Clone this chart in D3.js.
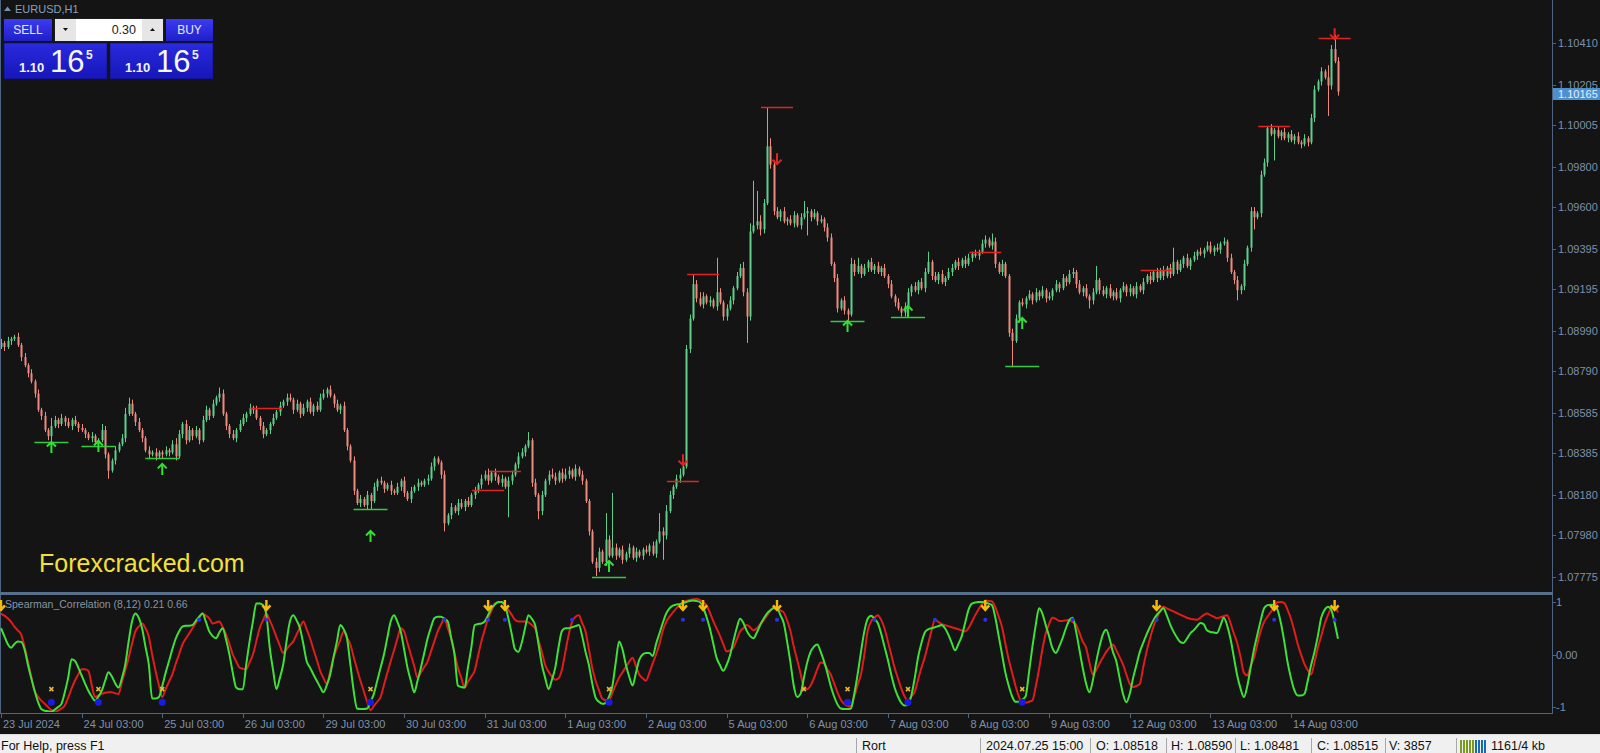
<!DOCTYPE html>
<html><head><meta charset="utf-8">
<script src="https://cdn.jsdelivr.net/npm/d3@7/dist/d3.min.js"></script>
<style>
html,body{margin:0;padding:0;background:#141414;overflow:hidden}
svg{display:block}
text{font-family:"Liberation Sans",Arial,sans-serif}
</style></head><body>
<svg id="chart" width="1600" height="753"></svg>
<script>
// ---------------- DATA ----------------
const symbol = "EURUSD,H1";
const firstOpen = 1.0891;
// hourly closes, one row per trading day (23 Jul 03:00 ... 14 Aug)
const closes = [
1.0893,1.0891,1.0894,1.0895,1.0896,1.0892,1.0886,1.0882,1.0878,1.0874,1.0868,1.0860,1.0857,1.0850,1.0847,1.0852,1.0855,1.0853,1.0856,1.0854,1.0852,1.0855,1.0853,1.0851,
1.0850,1.0848,1.0846,1.0847,1.0844,1.0845,1.0850,1.0838,1.0830,1.0835,1.0840,1.0843,1.0846,1.0858,1.0863,1.0858,1.0854,1.0850,1.0846,1.0840,1.0838,1.0839,1.0837,1.0839,
1.0838,1.0840,1.0839,1.0843,1.0837,1.0848,1.0853,1.0845,1.0850,1.0847,1.0850,1.0845,1.0855,1.0860,1.0857,1.0863,1.0866,1.0868,1.0858,1.0852,1.0848,1.0846,1.0850,1.0853,
1.0856,1.0858,1.0861,1.0860,1.0856,1.0852,1.0848,1.0850,1.0853,1.0856,1.0859,1.0862,1.0864,1.0866,1.0865,1.0860,1.0863,1.0858,1.0861,1.0864,1.0859,1.0862,1.0860,1.0866,
1.0868,1.0870,1.0867,1.0863,1.0860,1.0862,1.0850,1.0842,1.0835,1.0820,1.0814,1.0816,1.0813,1.0818,1.0815,1.0822,1.0825,1.0824,1.0821,1.0823,1.0820,1.0819,1.0822,1.0825,
1.0819,1.0816,1.0820,1.0822,1.0824,1.0823,1.0825,1.0826,1.0832,1.0836,1.0834,1.0828,1.0804,1.0808,1.0812,1.0810,1.0814,1.0812,1.0815,1.0813,1.0818,1.0820,1.0823,1.0826,
1.0828,1.0825,1.0829,1.0827,1.0824,1.0826,1.0822,1.0825,1.0828,1.0833,1.0837,1.0839,1.0842,1.0845,1.0824,1.0818,1.0810,1.0818,1.0825,1.0828,1.0827,1.0825,1.0829,1.0826,
1.0828,1.0830,1.0827,1.0831,1.0828,1.0825,1.0815,1.0800,1.0785,1.0782,1.0790,1.0785,1.0796,1.0788,1.0792,1.0788,1.0791,1.0786,1.0789,1.0792,1.0787,1.0790,1.0788,1.0791,
1.0790,1.0793,1.0789,1.0795,1.0800,1.0798,1.0810,1.0818,1.0822,1.0826,1.0828,1.0832,1.0890,1.0905,1.0922,1.0915,1.0912,1.0916,1.0913,1.0914,1.0911,1.0918,1.0913,1.0906,
1.0910,1.0914,1.0920,1.0926,1.0930,1.0918,1.0906,1.0948,1.0951,1.0953,1.0949,1.0962,1.0990,1.0981,1.0958,1.0955,1.0958,1.0953,1.0954,1.0952,1.0956,1.0951,1.0955,1.0957,
1.0958,1.0955,1.0957,1.0953,1.0954,1.0950,1.0945,1.0932,1.0925,1.0910,1.0914,1.0909,1.0907,1.0932,1.0928,1.0931,1.0927,1.0930,1.0933,1.0929,1.0931,1.0928,1.0930,1.0926,
1.0922,1.0916,1.0913,1.0910,1.0908,1.0911,1.0918,1.0921,1.0919,1.0923,1.0920,1.0928,1.0933,1.0926,1.0924,1.0927,1.0923,1.0925,1.0928,1.0930,1.0933,1.0931,1.0934,1.0932,
1.0935,1.0937,1.0936,1.0938,1.0942,1.0944,1.0941,1.0943,1.0932,1.0928,1.0932,1.0926,1.0898,1.0894,1.0905,1.0913,1.0912,1.0915,1.0917,1.0914,1.0918,1.0916,1.0919,1.0915,
1.0916,1.0919,1.0922,1.0920,1.0925,1.0923,1.0927,1.0928,1.0922,1.0918,1.0920,1.0916,1.0914,1.0918,1.0924,1.0919,1.0917,1.0920,1.0916,1.0918,1.0915,1.0919,1.0921,1.0918,
1.0920,1.0917,1.0921,1.0919,1.0923,1.0926,1.0924,1.0928,1.0925,1.0929,1.0926,1.0930,1.0927,1.0933,1.0929,1.0932,1.0935,1.0931,1.0934,1.0936,1.0938,1.0937,1.0939,1.0941,
1.0938,1.0940,1.0939,1.0942,1.0943,1.0935,1.0928,1.0924,1.0919,1.0921,1.0932,1.0940,1.0958,1.0955,1.0957,1.0976,1.0982,1.0999,1.0996,1.0998,1.0995,1.0997,1.0994,1.0996,
1.0993,1.0995,1.0992,1.0991,1.0994,1.0992,1.1004,1.1018,1.1022,1.1027,1.1024,1.1020,1.1038,1.1032,1.1017
];
// upper / lower shadows in pips
const wickUp = [
2,1,2,1,1,2,1,2,1,2,1,2,1,2,1,4,2,1,2,1,2,1,2,1,
2,1,1,2,1,1,3,2,1,1,2,1,2,3,3,2,1,2,1,1,2,1,2,1,
1,2,1,2,3,2,1,2,2,1,2,1,2,2,1,2,1,3,2,1,1,2,1,2,
2,1,2,1,2,1,2,1,1,2,1,2,1,2,2,1,2,1,2,1,2,1,2,2,
2,1,2,1,2,1,2,1,1,2,1,2,1,2,1,2,1,2,1,1,2,1,2,1,
2,1,2,1,2,1,1,2,2,1,1,1,2,1,2,1,2,2,1,2,1,2,1,2,
2,3,1,2,1,2,1,2,2,1,2,2,1,4,1,2,1,2,1,2,3,2,1,2,
3,2,1,2,1,2,1,1,1,2,2,1,13,2,27,2,1,2,1,2,1,2,1,1,
2,1,2,1,9,2,3,2,1,2,3,2,2,2,5,2,3,2,1,2,1,17,2,1,
2,2,1,2,2,3,2,4,22,15,3,2,19,4,2,2,1,2,1,2,2,1,2,6,
2,1,2,1,2,1,2,2,1,2,1,2,1,3,2,4,1,2,1,2,1,2,1,2,
1,2,1,2,1,2,2,1,2,1,2,2,5,1,2,1,2,1,2,2,1,2,1,2,
2,1,2,1,2,2,1,4,2,1,2,1,1,2,2,1,2,1,2,1,2,1,2,1,
2,1,2,1,2,1,2,2,1,2,1,2,1,2,7,1,2,1,2,1,2,1,2,1,
2,1,2,1,2,1,2,1,2,1,2,1,2,7,1,2,1,2,1,2,1,2,1,2,
2,1,2,1,2,1,2,1,2,1,2,1,2,2,1,2,2,1,2,1,2,1,2,1,
2,1,2,1,2,1,2,2,1,2,1,6,2,7,2
];
const wickDown = [
1,2,1,2,1,1,2,1,2,1,2,1,2,1,2,3,1,2,1,2,1,2,1,2,
1,2,1,2,1,2,1,2,4,1,2,1,1,2,1,1,2,1,2,1,2,1,2,1,
2,1,2,1,2,1,2,2,1,2,1,2,1,1,2,1,1,2,1,2,2,1,2,1,
1,2,1,2,1,2,2,1,2,1,1,2,1,2,1,2,1,2,1,2,1,2,1,1,
1,2,1,2,1,2,1,2,1,2,1,2,1,2,4,1,2,1,2,1,2,1,1,2,
2,1,2,1,2,1,1,2,1,2,1,2,4,1,2,1,2,1,2,1,1,2,1,2,
1,2,1,2,1,2,1,15,2,1,2,1,2,1,2,1,4,2,1,2,1,2,1,2,
1,2,1,2,1,2,1,2,1,4,2,1,2,1,1,2,1,2,1,2,1,2,1,2,
1,2,1,2,1,12,2,1,2,1,2,1,1,2,1,2,1,2,1,2,1,2,1,2,
2,1,2,1,1,2,13,2,1,2,3,2,1,2,2,1,2,1,2,1,2,1,2,1,
11,2,1,2,1,2,2,1,2,2,1,2,3,1,2,1,2,1,2,1,2,1,2,1,
2,1,2,1,2,2,1,2,1,2,1,2,1,2,1,2,1,2,1,2,1,2,1,2,
1,2,1,2,1,2,1,2,2,1,2,1,2,13,1,2,1,2,1,2,1,2,1,2,
1,2,1,2,1,2,1,2,2,1,2,1,4,2,1,2,1,2,1,2,1,2,1,2,
2,1,2,1,2,1,2,1,2,1,2,1,2,1,2,1,2,1,2,1,2,1,2,1,
1,2,1,2,1,2,1,2,5,2,2,1,2,6,1,2,1,2,1,13,1,2,1,2,
1,2,1,2,1,2,1,2,1,2,1,15,2,1,2
];
// Spearman_Correlation (8,12): fast (green) and signal (red) lines
const spearman = [
0.50,0.35,0.20,0.13,0.20,0.25,0.24,0.10,-0.19,-0.45,-0.69,-0.90,-1.04,-1.07,-1.08,-1.09,-1.05,-1.00,-0.94,-0.72,-0.44,-0.09,-0.12,-0.25,
-0.40,-0.55,-0.69,-0.80,-0.88,-0.80,-0.69,-0.50,-0.34,-0.42,-0.55,-0.63,-0.45,-0.19,0.25,0.63,0.78,0.70,0.50,0.15,-0.19,-0.84,-0.84,-0.81,
-0.60,-0.35,-0.13,0.10,0.30,0.44,0.53,0.55,0.55,0.56,0.64,0.72,0.78,0.62,0.44,0.35,0.31,0.42,0.50,0.28,0.00,-0.35,-0.63,-0.66,
-0.66,-0.19,0.25,0.63,0.97,0.97,0.94,0.75,0.13,-0.30,-0.66,-0.45,-0.19,0.25,0.63,0.75,0.65,0.50,0.20,-0.13,-0.25,-0.38,-0.50,-0.62,
-0.72,-0.58,-0.38,-0.05,0.25,0.56,0.48,0.31,-0.19,-0.70,-1.03,-1.04,-1.04,-1.03,-0.90,-0.75,-0.50,-0.25,0.00,0.32,0.63,0.75,0.62,0.44,
0.10,-0.25,-0.50,-0.72,-0.50,-0.25,0.03,0.31,0.52,0.69,0.72,0.72,0.68,0.63,0.32,0.00,-0.59,-0.62,-0.63,-0.25,0.13,0.56,0.58,0.59,
0.63,0.75,0.88,0.95,1.00,1.00,0.94,0.70,0.40,0.10,0.05,0.22,0.50,0.75,0.68,0.56,0.20,-0.19,-0.45,-0.66,-0.48,-0.25,0.15,0.45,
0.50,0.50,0.52,0.54,0.56,0.35,0.05,-0.20,-0.55,-0.82,-0.90,-0.94,-0.92,-0.80,-0.60,-0.15,0.25,0.10,-0.19,-0.42,-0.59,-0.35,-0.10,0.00,
0.03,0.03,-0.03,0.20,0.40,0.60,0.78,0.88,0.93,0.95,0.96,0.98,1.00,1.02,1.03,1.02,1.00,0.90,0.72,0.50,0.22,-0.06,-0.20,-0.31,
-0.20,-0.02,0.25,0.50,0.68,0.60,0.45,0.35,0.31,0.42,0.56,0.68,0.78,0.84,0.88,0.88,0.75,0.60,0.25,-0.15,-0.60,-0.81,-0.75,-0.45,
-0.15,0.05,0.15,0.19,0.05,-0.13,-0.35,-0.60,-0.80,-0.95,-1.03,-1.04,-1.04,-1.03,-0.75,-0.38,0.05,0.44,0.68,0.74,0.68,0.60,0.40,0.15,
-0.10,-0.38,-0.63,-0.80,-0.92,-0.97,-0.95,-0.78,-0.45,-0.05,0.22,0.42,0.48,0.50,0.52,0.54,0.56,0.50,0.38,0.22,0.08,0.20,0.35,0.60,
0.85,0.97,0.99,1.00,1.00,0.99,0.97,0.94,0.70,0.35,0.00,-0.35,-0.60,-0.80,-0.90,-0.90,-0.86,-0.80,-0.35,0.13,0.55,0.88,0.78,0.56,
0.35,0.12,0.03,0.15,0.31,0.50,0.65,0.70,0.45,0.10,-0.25,-0.55,-0.72,-0.50,-0.15,0.15,0.38,0.47,0.30,0.05,-0.13,-0.45,-0.75,-0.91,
-0.75,-0.45,-0.20,0.05,0.22,0.38,0.52,0.65,0.75,0.82,0.88,0.75,0.58,0.44,0.33,0.24,0.22,0.30,0.40,0.46,0.53,0.60,0.58,0.46,
0.43,0.42,0.41,0.55,0.70,0.55,0.30,-0.05,-0.40,-0.65,-0.81,-0.60,-0.25,0.10,0.38,0.65,0.88,0.94,0.95,0.94,0.85,0.60,0.25,-0.15,
-0.45,-0.68,-0.78,-0.78,-0.75,-0.50,-0.20,0.05,0.35,0.70,0.85,0.91,0.85,0.60,0.30
];
const signal = [
0.78,0.74,0.69,0.62,0.53,0.46,0.38,0.15,-0.13,-0.42,-0.69,-0.80,-0.88,-0.94,-1.00,-1.06,-1.09,-1.07,-1.03,-0.97,-0.82,-0.65,-0.50,-0.38,
-0.28,-0.28,-0.31,-0.58,-0.81,-0.78,-0.75,-0.73,-0.72,-0.72,-0.74,-0.75,-0.52,-0.30,-0.06,0.20,0.44,0.53,0.59,0.50,0.34,0.00,-0.31,-0.58,
-0.81,-0.66,-0.52,-0.38,-0.18,0.00,0.19,0.30,0.40,0.50,0.60,0.70,0.78,0.74,0.69,0.59,0.61,0.63,0.52,0.38,0.20,0.00,-0.13,-0.25,
-0.27,-0.28,-0.15,0.00,0.25,0.50,0.65,0.78,0.65,0.50,0.33,0.17,0.03,0.10,0.18,0.25,0.38,0.51,0.63,0.48,0.31,0.10,-0.10,-0.31,
-0.45,-0.56,-0.32,-0.06,0.12,0.28,0.44,0.32,0.19,-0.05,-0.28,-0.50,-0.70,-0.90,-1.06,-0.98,-0.90,-0.81,-0.58,-0.35,-0.13,0.08,0.30,0.50,
0.44,0.22,0.00,-0.22,-0.44,-0.34,-0.24,-0.13,0.06,0.25,0.44,0.57,0.69,0.50,0.31,0.03,-0.25,-0.44,-0.63,-0.52,-0.42,-0.31,-0.03,0.25,
0.47,0.69,0.83,0.97,0.99,1.00,0.93,0.85,0.76,0.66,0.63,0.63,0.63,0.61,0.56,0.50,0.27,0.05,-0.20,-0.33,-0.42,-0.48,-0.45,-0.28,
0.05,0.38,0.62,0.72,0.75,0.60,0.44,0.10,-0.25,-0.50,-0.68,-0.84,-0.87,-0.87,-0.73,-0.58,-0.44,-0.34,-0.24,-0.14,-0.06,-0.22,-0.38,-0.45,
-0.50,-0.35,-0.17,0.00,0.20,0.45,0.62,0.72,0.80,0.88,0.94,0.99,1.02,1.04,1.05,1.06,1.04,1.00,0.94,0.80,0.64,0.50,0.36,0.20,
0.06,0.08,0.13,0.28,0.44,0.50,0.56,0.52,0.46,0.50,0.58,0.65,0.74,0.83,0.90,0.88,0.84,0.80,0.65,0.45,0.15,-0.10,-0.36,-0.62,
-0.66,-0.59,-0.45,-0.28,-0.15,-0.17,-0.28,-0.38,-0.55,-0.72,-0.86,-0.94,-0.98,-0.98,-0.80,-0.58,-0.38,0.00,0.45,0.63,0.70,0.75,0.66,0.50,
0.25,0.00,-0.25,-0.45,-0.65,-0.80,-0.88,-0.80,-0.71,-0.48,-0.25,-0.05,0.20,0.45,0.66,0.62,0.58,0.56,0.54,0.52,0.50,0.48,0.46,0.44,
0.50,0.62,0.75,0.86,0.96,1.03,1.02,1.01,0.90,0.72,0.52,0.20,-0.10,-0.35,-0.60,-0.80,-0.93,-0.92,-0.90,-0.88,-0.62,-0.28,0.10,0.40,
0.58,0.70,0.68,0.64,0.64,0.65,0.66,0.62,0.57,0.42,0.25,0.13,-0.15,-0.38,-0.30,-0.17,-0.06,0.05,0.13,0.19,0.08,-0.05,-0.19,-0.38,
-0.56,-0.62,-0.60,-0.56,-0.25,0.05,0.30,0.52,0.69,0.82,0.91,0.88,0.85,0.82,0.79,0.76,0.73,0.70,0.68,0.67,0.66,0.70,0.75,0.78,
0.75,0.72,0.69,0.71,0.73,0.75,0.60,0.40,0.22,-0.05,-0.35,-0.40,-0.22,-0.06,0.20,0.45,0.62,0.72,0.81,0.90,1.00,1.00,0.98,0.85,
0.68,0.45,0.20,0.00,-0.18,-0.30,-0.38,-0.15,0.13,0.35,0.58,0.75,0.88,0.91,0.80
];
// indicator signal bars
const peakArrowBars = [0, 79, 145, 150, 203, 209, 231, 293, 344, 379, 397];
const peakDotBars = [59, 79, 132, 145, 150, 170, 203, 209, 231, 260, 278, 293, 319, 344, 379, 397];
const troughCrossBars = [15, 29, 48, 110, 181, 239, 252, 270, 304];
const troughDotBars = [15, 29, 48, 110, 181, 252, 270, 304];
// buy signals on price chart
const buyBars = [15, 29, 48, 110, 181, 252, 270, 304];
const buyLevels = [1.08443, 1.08420, 1.08360, 1.08110, 1.07777, 1.09037, 1.09058, 1.08816];
const buyArrowTips = [1.08446, 1.08451, 1.08338, 1.08007, 1.07859, 1.09043, 1.09117, 1.09058];
// sell signals on price chart
const sellBars = [79, 145, 150, 203, 209, 231, 293, 344, 379, 397];
const sellLevels = [1.08610, 1.08205, 1.08298, 1.08249, 1.09270, 1.10094, 1.09379, 1.09290, 1.10000, 1.10434];
const sellArrowBars = [203, 231, 397];
const sellArrowTips = [1.08322, 1.09807, 1.10424];
// axes
const priceTicks = [1.10410, 1.10205, 1.10005, 1.09800, 1.09600, 1.09395, 1.09195, 1.08990, 1.08790, 1.08585, 1.08385, 1.08180, 1.07980, 1.07775];
const lastPrice = 1.10165;
const timeLabels = ["23 Jul 2024","24 Jul 03:00","25 Jul 03:00","26 Jul 03:00","29 Jul 03:00","30 Jul 03:00","31 Jul 03:00","1 Aug 03:00","2 Aug 03:00","5 Aug 03:00","6 Aug 03:00","7 Aug 03:00","8 Aug 03:00","9 Aug 03:00","12 Aug 03:00","13 Aug 03:00","14 Aug 03:00"];
const timeLabelBars = [0,24,48,72,96,120,144,168,192,216,240,264,288,312,336,360,384];
const indTicks = [1, 0, -1];
const indTickLabels = ["1", "0.00", "-1"];
const statusItems = ["For Help, press F1","Rort","2024.07.25 15:00","O: 1.08518","H: 1.08590","L: 1.08481","C: 1.08515","V: 3857","1161/4 kb"];

// ---------------- DRAW ----------------
const svg = d3.select('#chart');
const N = Math.min(closes.length, wickUp.length, wickDown.length);
const x = d3.scaleLinear().domain([0, 398]).range([1, 1338]);
const y = d3.scaleLinear().domain([1.07701, 1.10622]).range([592, 0]);
const yi = d3.scaleLinear().domain([-1, 1]).range([707, 602]);
const PIP = 0.0001;

const AXC = '#4d6580', TXT = '#7d91ab';
svg.append('rect').attr('width', 1600).attr('height', 753).attr('fill', '#141414');

const defs = svg.append('defs');
defs.append('clipPath').attr('id', 'mainClip').append('rect').attr('x', 0).attr('y', 0).attr('width', 1552).attr('height', 592);
defs.append('clipPath').attr('id', 'indClip').append('rect').attr('x', 0).attr('y', 596).attr('width', 1552).attr('height', 116);
const g1 = defs.append('linearGradient').attr('id', 'btn').attr('x1', 0).attr('y1', 0).attr('x2', 0).attr('y2', 1);
g1.append('stop').attr('offset', 0).attr('stop-color', '#3b3bf2');
g1.append('stop').attr('offset', 1).attr('stop-color', '#2020c8');
const g2 = defs.append('linearGradient').attr('id', 'big').attr('x1', 0).attr('y1', 0).attr('x2', 0).attr('y2', 1);
g2.append('stop').attr('offset', 0).attr('stop-color', '#2a2ae0');
g2.append('stop').attr('offset', 1).attr('stop-color', '#1616b8');

// candles
const bars = [];
for (let i = 0; i < N; i++) {
  const o = i ? closes[i - 1] : firstOpen, c = closes[i];
  bars.push({ i, o, c, hi: Math.max(o, c) + wickUp[i] * PIP, lo: Math.min(o, c) - wickDown[i] * PIP, up: c >= o });
}
const main = svg.append('g').attr('clip-path', 'url(#mainClip)');
const BULL = '#5fcf8b', BEAR = '#ef8b7e';
main.selectAll('line.wick').data(bars).join('line').attr('class', 'wick')
  .attr('x1', d => Math.round(x(d.i)) + 0.5).attr('x2', d => Math.round(x(d.i)) + 0.5)
  .attr('y1', d => y(d.hi)).attr('y2', d => y(d.lo))
  .attr('stroke', d => d.up ? BULL : BEAR).attr('stroke-width', 1);
main.selectAll('rect.body').data(bars).join('rect').attr('class', 'body')
  .attr('x', d => Math.round(x(d.i)) - 0.5).attr('width', 2)
  .attr('y', d => y(Math.max(d.o, d.c)))
  .attr('height', d => Math.max(1, y(Math.min(d.o, d.c)) - y(Math.max(d.o, d.c))))
  .attr('fill', d => d.up ? BULL : BEAR);

// buy signals
const buys = buyBars.map((b, k) => ({ b, lvl: buyLevels[k], tip: buyArrowTips[k] }));
main.selectAll('line.buyL').data(buys).join('line').attr('class', 'buyL')
  .attr('x1', d => x(d.b) - 17).attr('x2', d => x(d.b) + 17)
  .attr('y1', d => Math.round(y(d.lvl)) + 0.5).attr('y2', d => Math.round(y(d.lvl)) + 0.5)
  .attr('stroke', '#2ecc40').attr('stroke-width', 1.3);
main.selectAll('path.buyA').data(buys).join('path').attr('class', 'buyA')
  .attr('d', d => { const cx = x(d.b), t = y(d.tip); return `M${cx},${t + 12}L${cx},${t + 1}M${cx - 4.5},${t + 5.5}L${cx},${t + 1}L${cx + 4.5},${t + 5.5}`; })
  .attr('stroke', '#33e033').attr('stroke-width', 2).attr('fill', 'none');

// sell signals
const sells = sellBars.map((b, k) => ({ b, lvl: sellLevels[k] }));
main.selectAll('line.sellL').data(sells).join('line').attr('class', 'sellL')
  .attr('x1', d => x(d.b) - 16).attr('x2', d => x(d.b) + 16)
  .attr('y1', d => Math.round(y(d.lvl)) + 0.5).attr('y2', d => Math.round(y(d.lvl)) + 0.5)
  .attr('stroke', '#e02424').attr('stroke-width', 1.3);
const sArr = sellArrowBars.map((b, k) => ({ b, tip: sellArrowTips[k] }));
main.selectAll('path.sellA').data(sArr).join('path').attr('class', 'sellA')
  .attr('d', d => { const cx = x(d.b), t = y(d.tip); return `M${cx},${t - 12}L${cx},${t - 1}M${cx - 4.5},${t - 5.5}L${cx},${t - 1}L${cx + 4.5},${t - 5.5}`; })
  .attr('stroke', '#e02424').attr('stroke-width', 2).attr('fill', 'none');

// watermark
svg.append('text').attr('x', 39).attr('y', 572).attr('font-size', 25).attr('fill', '#f4e03a')
  .text('Forexcracked.com');

// frame lines
svg.append('line').attr('x1', 1552.5).attr('x2', 1552.5).attr('y1', 0).attr('y2', 714).attr('stroke', AXC);
svg.append('line').attr('x1', 0.5).attr('x2', 0.5).attr('y1', 0).attr('y2', 714).attr('stroke', AXC);
svg.append('rect').attr('x', 0).attr('y', 592).attr('width', 1553).attr('height', 3).attr('fill', '#56708c');
svg.append('line').attr('x1', 0).attr('x2', 1553).attr('y1', 713.5).attr('y2', 713.5).attr('stroke', AXC);

// price axis
const pa = svg.append('g');
pa.selectAll('line').data(priceTicks).join('line')
  .attr('x1', 1552).attr('x2', 1556).attr('y1', d => Math.round(y(d)) + 0.5).attr('y2', d => Math.round(y(d)) + 0.5).attr('stroke', AXC);
pa.selectAll('text').data(priceTicks).join('text')
  .attr('x', 1558).attr('y', d => y(d) + 4).attr('font-size', 11).attr('fill', TXT).text(d => d.toFixed(5));
// last price label (covers the lower half of the neighbouring tick label, as in the terminal)
pa.append('rect').attr('x', 1553).attr('y', Math.round(y(lastPrice)) - 5).attr('width', 47).attr('height', 12).attr('fill', '#4e8fd0');
pa.append('text').attr('x', 1558).attr('y', y(lastPrice) + 5).attr('font-size', 11).attr('fill', '#e4eeff').text(lastPrice.toFixed(5));

// indicator
const ind = svg.append('g').attr('clip-path', 'url(#indClip)');
const ln = d3.line().x((d, i) => x(i)).y(d => yi(d)).curve(d3.curveMonotoneX);
ind.append('path').attr('d', ln(signal)).attr('fill', 'none').attr('stroke', '#e01c1c').attr('stroke-width', 2);
ind.append('path').attr('d', ln(spearman)).attr('fill', 'none').attr('stroke', '#3fe03a').attr('stroke-width', 2);
ind.selectAll('circle.pd').data(peakDotBars).join('circle').attr('class', 'pd')
  .attr('cx', d => x(d)).attr('cy', yi(0.66)).attr('r', 2).attr('fill', '#3030e8');
ind.selectAll('circle.td').data(troughDotBars).join('circle').attr('class', 'td')
  .attr('cx', d => x(d)).attr('cy', yi(-0.91)).attr('r', 3.5).attr('fill', '#1a1ae0');
ind.selectAll('path.tc').data(troughCrossBars).join('path').attr('class', 'tc')
  .attr('d', d => { const cx = x(d), cy = yi(-0.66); return `M${cx - 2},${cy - 2}L${cx + 2},${cy + 2}M${cx - 2},${cy + 2}L${cx + 2},${cy - 2}`; })
  .attr('stroke', '#e8b83a').attr('stroke-width', 1.5);
ind.selectAll('path.pa').data(peakArrowBars).join('path').attr('class', 'pa')
  .attr('d', d => { const cx = x(d), t = yi(1.04); return `M${cx},${t}L${cx},${t + 10}M${cx - 4},${t + 5.5}L${cx},${t + 10}L${cx + 4},${t + 5.5}`; })
  .attr('stroke', '#f5b90f').attr('stroke-width', 2.4).attr('fill', 'none');
svg.append('text').attr('x', 5).attr('y', 608).attr('font-size', 10.5).attr('fill', '#8594a8')
  .text('Spearman_Correlation (8,12) 0.21 0.66');
const ia = svg.append('g');
ia.selectAll('line').data(indTicks).join('line')
  .attr('x1', 1552).attr('x2', 1556).attr('y1', d => Math.round(yi(d)) + 0.5).attr('y2', d => Math.round(yi(d)) + 0.5).attr('stroke', AXC);
ia.selectAll('text').data(indTicks).join('text')
  .attr('x', 1556).attr('y', d => yi(d) + 4).attr('font-size', 11).attr('fill', TXT).text((d, k) => indTickLabels[k]);

// time axis
const ta = svg.append('g');
ta.selectAll('line').data(timeLabelBars).join('line')
  .attr('x1', d => Math.round(x(d)) + 0.5).attr('x2', d => Math.round(x(d)) + 0.5).attr('y1', 713).attr('y2', 718).attr('stroke', AXC);
ta.selectAll('text').data(timeLabelBars).join('text')
  .attr('x', d => x(d) + 2).attr('y', 728).attr('font-size', 11).attr('fill', TXT).text((d, k) => timeLabels[k]);

// trade panel
const p = svg.append('g');
p.append('path').attr('d', 'M4,11 L7.5,6.5 L11,11 Z').attr('fill', '#7a90b0');
p.append('text').attr('x', 15).attr('y', 13).attr('font-size', 11).attr('fill', '#8aa0bf').text(symbol);
p.append('rect').attr('x', 4).attr('y', 19).attr('width', 48).attr('height', 22).attr('fill', 'url(#btn)');
p.append('text').attr('x', 28).attr('y', 34).attr('text-anchor', 'middle').attr('font-size', 12).attr('fill', '#e6eaff').text('SELL');
p.append('rect').attr('x', 166).attr('y', 19).attr('width', 47).attr('height', 22).attr('fill', 'url(#btn)');
p.append('text').attr('x', 189.5).attr('y', 34).attr('text-anchor', 'middle').attr('font-size', 12).attr('fill', '#e6eaff').text('BUY');
p.append('rect').attr('x', 54).attr('y', 18).attr('width', 110).attr('height', 24).attr('fill', '#1c1c1c');
p.append('rect').attr('x', 55).attr('y', 19).attr('width', 21).attr('height', 22).attr('fill', '#e6e6e6');
p.append('rect').attr('x', 76).attr('y', 19).attr('width', 66).attr('height', 22).attr('fill', '#ffffff');
p.append('rect').attr('x', 142).attr('y', 19).attr('width', 21).attr('height', 22).attr('fill', '#e6e6e6');
p.append('path').attr('d', 'M63,28 L68,28 L65.5,31 Z').attr('fill', '#111');
p.append('path').attr('d', 'M150,31 L155,31 L152.5,28 Z').attr('fill', '#111');
p.append('text').attr('x', 136).attr('y', 34).attr('text-anchor', 'end').attr('font-size', 12.5).attr('fill', '#222').text('0.30');
[4, 110].forEach(bx => {
  p.append('rect').attr('x', bx).attr('y', 43).attr('width', 103).attr('height', 36).attr('fill', 'url(#big)').attr('stroke', '#101070').attr('stroke-width', 0.6);
  p.append('text').attr('x', bx + 15).attr('y', 72).attr('font-size', 13).attr('font-weight', 'bold').attr('fill', '#f2f4ff').text('1.10');
  p.append('text').attr('x', bx + 46).attr('y', 72).attr('font-size', 31).attr('fill', '#f6f7ff').text('16');
  p.append('text').attr('x', bx + 82).attr('y', 59).attr('font-size', 12).attr('font-weight', 'bold').attr('fill', '#f2f4ff').text('5');
});

// status bar
const sb = svg.append('g');
sb.append('rect').attr('x', 0).attr('y', 734).attr('width', 1600).attr('height', 19).attr('fill', '#f0f0f0');
sb.append('line').attr('x1', 0).attr('x2', 1600).attr('y1', 734.5).attr('y2', 734.5).attr('stroke', '#dcdcdc');
const statusX = [1, 862, 986, 1096, 1171, 1240, 1317, 1389, 1491];
const sepX = [856, 980, 1090, 1166, 1235, 1311, 1385, 1456];
sb.selectAll('line.sep').data(sepX).join('line').attr('class', 'sep')
  .attr('x1', d => d + 0.5).attr('x2', d => d + 0.5).attr('y1', 738).attr('y2', 753).attr('stroke', '#a8a8a8');
sb.selectAll('text').data(statusItems).join('text')
  .attr('x', (d, k) => statusX[k]).attr('y', 750).attr('font-size', 12.5).attr('fill', '#111').text(d => d);
const icon = sb.append('g');
[0,1,2,3,4,5,6,7,8].forEach(k => icon.append('rect').attr('x', 1460 + k * 3).attr('y', 740).attr('width', 2).attr('height', 13).attr('fill', k < 5 ? '#7a9a20' : '#1a6ab0'));
</script>
</body></html>
